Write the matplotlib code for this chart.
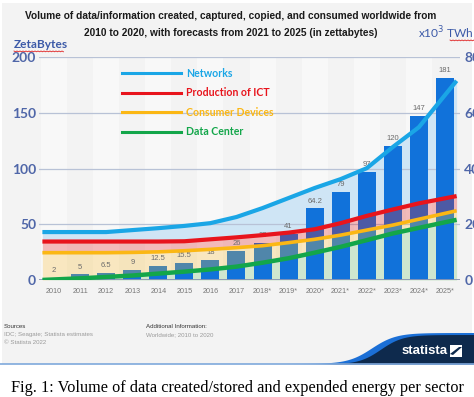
import numpy as np
import matplotlib
matplotlib.use('Agg')
import matplotlib.pyplot as plt
from matplotlib.patches import Rectangle, Polygon
from matplotlib.lines import Line2D

# ---- data ----
years = ['2010', '2011', '2012', '2013', '2014', '2015', '2016', '2017',
         '2018*', '2019*', '2020*', '2021*', '2022*', '2023*', '2024*', '2025*']
zettabytes = [2, 5, 6.5, 9, 12.5, 15.5, 18, 26, 33, 41, 64.2, 79, 97, 120, 147, 181]
bar_labels = ['2', '5', '6.5', '9', '12.5', '15.5', '18', '26', '33', '41',
              '64.2', '79', '97', '120', '147', '181']

# energy, x10^3 TWh (right axis)
networks = [17.2, 17.2, 17.2, 17.9, 18.6, 19.4, 20.4, 22.6, 25.8, 29.4, 33.0, 36.2, 40.1, 47.7, 54.8, 66.3]
production_ict = [13.8, 13.8, 13.8, 13.8, 13.8, 13.9, 14.6, 15.3, 16.1, 17.0, 18.2, 20.4, 23.0, 25.3, 27.5, 29.3]
consumer_dev = [9.8, 9.8, 9.8, 9.9, 10.1, 10.5, 11.0, 11.6, 12.3, 13.4, 14.6, 16.1, 17.9, 19.7, 21.8, 23.9]
data_center = [0.2, 0.6, 1.1, 1.6, 2.3, 3.0, 3.8, 4.8, 6.2, 7.8, 9.8, 11.9, 14.3, 16.7, 18.7, 20.7]

W, H = 474, 397
def fx(x):
    return x / W
def fy(y):
    return 1 - y / H

fig = plt.figure(figsize=(W / 100, H / 100), dpi=100)
fig.patch.set_facecolor('white')
fig.add_artist(Rectangle((fx(2), fy(364)), fx(472) - fx(2), fy(3) - fy(364),
                         transform=fig.transFigure, facecolor='#f3f3f3',
                         edgecolor='none', zorder=-10))

ax = fig.add_axes([fx(39), fy(280), fx(460) - fx(39), fy(57) - fy(280)])
ax.patch.set_visible(False)
n = len(years)
x = np.arange(n)
k = 2.5  # energy -> left axis units

# background bands
for i in range(n):
    if i % 2 == 0:
        ax.axvspan(i - 0.5, i + 0.5, color='#f8f8f8', lw=0, zorder=0)

def ext(v):
    v = np.asarray(v, float)
    return np.r_[v[0] - (v[1] - v[0]) * 0.45, v, v[-1] + (v[-1] - v[-2]) * 0.45] * k
lx = np.r_[-0.45, x, n - 1 + 0.45]
net = ext(networks); red = ext(production_ict); yel = ext(consumer_dev); grn = ext(data_center)
grn = np.clip(grn, 0, None)

ax.fill_between(lx, red, net, color='#cfe5f5', lw=0, zorder=1)
ax.fill_between(lx, 0, grn, color='#cfe6cf', lw=0, zorder=1)

for v in [50, 100, 150, 200]:
    ax.axhline(v, color='#b8c2d6', lw=0.9, zorder=1.5)
ax.axhline(0, color='#8895b3', lw=1.3, zorder=3.8)

ax.bar(x, zettabytes, width=0.69, color='#1172da', zorder=2)

ax.fill_between(lx, yel, red, color='#e81c1c', alpha=0.28, lw=0, zorder=3)
ax.fill_between(lx, grn, yel, color='#fdbc2a', alpha=0.27, lw=0, zorder=3)

for xi, v, lab in zip(x, zettabytes, bar_labels):
    ax.text(xi, v + 3.5, lab, ha='center', va='bottom', fontsize=5.5,
            color='#6b6b6b', family='Liberation Sans', zorder=3.5)

c_net, c_red, c_yel, c_grn = '#1aa6e6', '#e8141c', '#fbb714', '#13a64a'
ax.plot(lx, net, color=c_net, lw=3.0, zorder=4, solid_capstyle='butt')
ax.plot(lx, red, color=c_red, lw=3.0, zorder=4, solid_capstyle='butt')
ax.plot(lx, yel, color=c_yel, lw=2.6, zorder=4, solid_capstyle='butt')
ax.plot(lx, grn, color=c_grn, lw=3.2, zorder=4, solid_capstyle='butt')

ax.set_xlim(-0.58, n - 1 + 0.58)
ax.set_ylim(0, 200)
ax.set_yticks([0, 50, 100, 150, 200])
ax.set_xticks(x)
ax.set_xticklabels(years, fontsize=5.2, color='#777777', family='Liberation Sans')
for s in ax.spines.values():
    s.set_visible(False)
ax.tick_params(axis='x', length=0, pad=6)
ax.tick_params(axis='y', length=0, pad=2, labelsize=10, labelcolor='#4f66a8')
for t in ax.get_yticklabels():
    t.set_fontweight('bold'); t.set_family('Lato')

# right axis (x10^3 TWh); labels run off the right edge as in the source image
sec = ax.secondary_yaxis('right', functions=(lambda v: v / k, lambda v: v * k))
sec.set_yticks([0, 20, 40, 60, 80])
sec.tick_params(length=0, pad=3, labelsize=10, labelcolor='#4f66a8')
sec.spines['right'].set_visible(False)
for t in sec.get_yticklabels():
    t.set_fontweight('bold'); t.set_family('Lato')

handles = [Line2D([], [], color=c, lw=2.2) for c in [c_net, c_red, c_yel, c_grn]]
leg = ax.legend(handles, ['Networks', 'Production of ICT', 'Consumer Devices', 'Data Center'],
                loc='upper left', bbox_to_anchor=(fx(122), fy(68)), bbox_transform=fig.transFigure,
                frameon=False, borderpad=0, borderaxespad=0, handlelength=5.6,
                handletextpad=0.5, labelspacing=0.8, labelcolor='linecolor',
                prop={'family': 'Lato', 'size': 7.6, 'weight': 'bold'})
leg.set_zorder(6)

# title and axis captions
fig.text(fx(231), fy(16), 'Volume of data/information created, captured, copied, and consumed worldwide from',
         ha='center', va='center', fontsize=7.3, fontweight='bold', family='Liberation Sans', color='#1a1a1a')
fig.text(fx(231), fy(33), '2010 to 2020, with forecasts from 2021 to 2025 (in zettabytes)',
         ha='center', va='center', fontsize=7.3, fontweight='bold', family='Liberation Sans', color='#1a1a1a')
fig.text(fx(14), fy(44), 'ZetaBytes', ha='left', va='center', fontsize=8.6,
         fontweight='bold', family='Lato', color='#3c5aa8')
fig.text(fx(418), fy(33), 'x10$^3$ TWh', ha='left', va='center', fontsize=8.6,
         family='Lato', color='#3c5aa8')
# spell-check squiggles
for x0, x1, yy in [(14, 64, 51), (450, 474, 40)]:
    zx = np.arange(x0, x1 + 1, 1.5)
    zy = yy + 0.8 * (np.arange(len(zx)) % 2)
    fig.add_artist(Line2D(fx(zx), fy(zy), color='#e02020', lw=0.6, transform=fig.transFigure))

# footer
fig.text(fx(4), fy(327), 'Sources', fontsize=4.4, color='#333333', va='center', family='Liberation Sans')
fig.text(fx(4), fy(334.5), 'IDC; Seagate; Statista estimates', fontsize=4.4, color='#9a9a9a', va='center', family='Liberation Sans')
fig.text(fx(4), fy(342), '\u00a9 Statista 2022', fontsize=4.4, color='#9a9a9a', va='center', family='Liberation Sans')
fig.text(fx(146), fy(326.5), 'Additional Information:', fontsize=4.4, color='#333333', va='center', family='Liberation Sans')
fig.text(fx(146), fy(334.5), 'Worldwide; 2010 to 2020', fontsize=4.4, color='#9a9a9a', va='center', family='Liberation Sans')

fig.add_artist(Line2D([fx(0), fx(474)], [fy(363.5), fy(363.5)], color='#7fa9dc', lw=1.2, transform=fig.transFigure))
cx = np.linspace(285, 474, 200)
def sig(z):
    return 1 / (1 + np.exp(-z))
top1 = 364 - 31 * sig((cx - 372) / 12)
top2 = 364.5 - 29.5 * sig((cx - 381) / 11)
poly1 = np.c_[np.r_[fx(cx), fx(474)], np.r_[fy(top1), fy(364.5)]]
fig.add_artist(Polygon(poly1, closed=True, transform=fig.transFigure, facecolor='#1b6fd6', edgecolor='none'))
poly2 = np.c_[np.r_[fx(cx), fx(474)], np.r_[fy(top2), fy(364.5)]]
fig.add_artist(Polygon(poly2, closed=True, transform=fig.transFigure, facecolor='#0e2a4d', edgecolor='none'))
fig.text(fx(425), fy(351), 'statista', ha='center', va='center', fontsize=9.5, fontweight='bold',
         color='white', family='Liberation Sans')
icon = [(450, 357), (450, 345), (462, 345), (462, 357)]
fig.add_artist(Polygon([(fx(a), fy(b)) for a, b in icon], closed=True, transform=fig.transFigure,
                       facecolor='white', edgecolor='none'))
cut = [(450, 354), (459, 347), (462, 347), (453, 355)]
fig.add_artist(Polygon([(fx(a), fy(b)) for a, b in cut], closed=True, transform=fig.transFigure,
                       facecolor='#0e2a4d', edgecolor='none'))

fig.text(0.5, fy(388), 'Fig. 1: Volume of data created/stored and expended energy per sector',
         ha='center', va='center', fontsize=11.7, family='Liberation Serif', color='black')

fig.savefig('out.png', dpi=100)
